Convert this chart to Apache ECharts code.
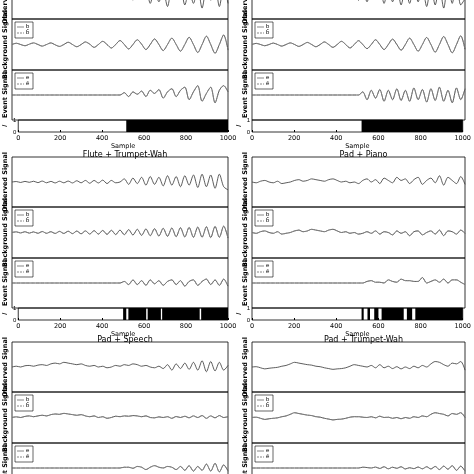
<!DOCTYPE html><html><head><meta charset="utf-8">
<script src="https://cdn.jsdelivr.net/npm/echarts@6/dist/echarts.min.js"></script>
<style>body{margin:0;overflow:hidden;background:#fff}#c{position:absolute;left:0;top:-40px;width:474px;height:554px}</style>
</head><body><div id="c"></div><script>
const xs=[];for(let x=0;x<=1000;x+=20)xs.push(x);
const titles=["","","Flute + Trumpet-Wah","Pad + Piano","Pad + Speech","Pad + Trumpet-Wah"];
const Z25=[0,0,0,0,0,0,0,0,0,0,0,0,0,0,0,0,0,0,0,0,0,0,0,0,0];
// panel 1 (top-left)
const o1=[0,.1,0,-.1,0,.1,0,-.1,0,.12,0,-.1,.05,.15,0,-.15,0,.2,0,-.2,0,.2,0,-.25,0,.3,-.3,.2,-.4,.3,-.2,.4,-.6,.3,-.5,.2,-.8,.4,-.3,.5,-.7,.2,-.6,.5,-.9,.3,-.4,.6,-.8,.5,-.6];
const b1=[0,.08,0,-.08,.02,.1,0,-.1,0,.1,-.02,-.12,0,.14,0,-.14,0,.16,.02,-.18,0,.2,0,-.22,0,.25,0,-.28,0,.3,.02,-.32,0,.35,0,-.38,0,.4,0,-.42,0,.45,0,-.5,0,.52,0,-.55,0,.6,-.35];
const e1=Z25.concat([0,.15,-.1,.2,.05,.25,-.1,.3,.1,.35,-.2,.2,.4,-.1,.3,.5,-.3,.2,.6,-.4,.1,.5,-.5,.3,.6,.2]);
const i1=[[515,1000]];
// panel 2 (top-right)
const o2=[0,.1,-.05,-.1,0,.12,0,-.1,0,.1,0,-.12,.02,.14,0,-.15,0,.18,0,-.2,0,.22,-.1,-.3,.2,-.4,.3,-.5,.4,-.3,.5,-.6,.4,-.5,.6,-.7,.3,-.6,.7,-.5,.4,-.8,.6,-.7,.5,-.9,.7,-.6,.8,-.7,-.3];
const b2=[0,.07,0,-.08,0,.09,0,-.1,0,.1,0,-.12,0,.13,0,-.14,0,.16,0,-.18,0,.2,0,-.22,0,.24,0,-.26,0,.3,0,-.32,0,.34,0,-.36,0,.4,0,-.42,0,.44,0,-.48,0,.5,0,-.52,0,.55,-.3];
const e2=Z25.concat([0,.2,-.3,.3,-.2,.35,-.4,.3,-.3,.4,-.35,.3,-.4,.45,-.3,.35,-.45,.4,-.35,.5,-.4,.3,-.5,.45,-.3,.4]);
const i2=[[520,1000]];
// panel 3 Flute + Trumpet-Wah
const o3=[0,.03,-.03,.04,-.02,.05,-.04,.06,-.05,.04,-.06,.05,-.05,.06,-.06,.08,-.05,.1,-.08,.1,-.06,.12,-.1,.1,-.05,0,.2,-.15,.25,-.1,.3,-.2,.35,-.15,.3,-.25,.4,-.2,.35,-.3,.4,-.2,.45,-.35,.5,-.3,.45,-.4,.5,-.3,-.5];
const b3=[0,.04,-.03,.05,-.04,.04,-.05,.06,-.05,.05,-.06,.07,-.06,.08,-.07,.09,-.08,.1,-.1,.12,-.1,.13,-.12,.14,-.13,.15,-.14,.18,-.16,.2,-.18,.22,-.2,.24,-.22,.26,-.24,.28,-.26,.3,-.28,.32,-.3,.34,-.3,.36,-.32,.38,-.3,.4,-.35];
const e3=Z25.concat([0,.1,-.1,.2,-.1,.15,-.15,.2,-.05,.15,-.15,.1,.2,-.1,.15,-.2,.1,.2,-.15,.1,.25,-.1,.2,-.15,.25,-.2]);
const i3=[[500,515],[525,610],[617,680],[686,865],[872,1000]];
// panel 4 Pad + Piano
const o4=[0,-.05,.05,.1,0,-.05,.05,-.1,-.05,0,.1,.15,.05,.1,.2,.15,.1,.05,.15,.2,.1,0,.05,-.05,0,-.1,.1,.2,0,.15,-.1,.25,.1,-.05,.3,.1,.2,-.1,.15,.3,-.15,.1,.25,-.05,.4,-.2,.3,.1,-.1,.35,-.15];
const b4=[0,-.05,.05,.1,0,-.05,.05,-.1,-.05,0,.1,.15,.05,.1,.2,.15,.1,.05,.15,.2,.1,0,.05,-.05,0,-.1,-.05,.05,-.05,.1,-.1,.05,0,-.15,.1,-.05,.05,-.2,.05,.1,-.15,0,.1,-.1,.15,-.2,.1,.05,-.1,.15,-.05];
const e4=Z25.concat([0,0,.1,.15,.05,.05,0,.2,.1,.05,.25,.15,.15,.1,.1,.35,0,.1,.2,.05,.25,0,.2,.2,.05,-.1]);
const i4=[[520,530],[548,560],[580,600],[615,720],[735,760],[775,1000]];
// panel 5 Pad + Speech
const o5=[0,.05,0,.08,.1,.05,.12,.15,.1,.2,.25,.2,.3,.25,.2,.15,.2,.1,.05,.1,0,.05,-.05,0,.1,.05,.15,.1,.2,.15,.05,.1,0,-.05,.05,-.1,.15,-.2,.2,-.1,.25,-.15,.3,-.2,.4,-.3,.35,-.25,.3,-.2,.1];
const b5=[0,.04,0,.07,.1,.05,.1,.14,.1,.18,.22,.2,.26,.22,.18,.14,.18,.1,.05,.1,0,.05,-.05,0,.08,.05,.1,.08,.12,.1,.05,.1,0,-.02,.04,0,.05,-.05,.06,0,.08,-.02,.1,0,.12,-.05,.1,-.02,.12,0,.05];
const e5=Z25.concat([0,.05,.05,-.02,.1,.05,-.1,.05,.15,.05,0,.1,.05,-.1,.1,-.15,.15,-.2,.1,-.15,.25,-.2,.3,-.25,.2,-.2]);
const i5=[[500,1000]];
// panel 6 Pad + Trumpet-Wah
const o6=[0,.02,-.05,-.12,-.08,-.05,-.02,.05,.1,.2,.3,.25,.2,.15,.12,.05,.02,-.05,-.1,-.15,-.12,-.1,-.05,.05,.15,.1,.05,0,.1,-.05,.15,-.05,.05,-.1,.02,-.12,0,-.1,.05,-.05,.1,0,.2,.35,.3,.15,.05,.25,.2,.35,-.2];
const b6=[0,.02,-.05,-.12,-.08,-.05,-.02,.05,.1,.2,.3,.25,.2,.15,.12,.05,.02,-.05,-.1,-.15,-.12,-.1,-.05,.02,.05,.05,.02,0,.05,-.02,.08,0,.02,-.05,0,-.08,0,-.05,.05,0,.1,.05,.2,.3,.25,.2,.1,.25,.2,.3,0];
const e6=Z25.concat([0,.05,.03,0,.06,-.03,.08,-.05,.05,-.02,.08,-.06,.02,-.04,.06,-.05,.08,-.06,.1,-.1,.12,-.08,.15,-.15,.12,-.2]);
const i6=[[520,1000]];
const P=[[o1,b1,e1,i1],[o2,b2,e2,i2],[o3,b3,e3,i3],[o4,b4,e4,i4],[o5,b5,e5,i5],[o6,b6,e6,i6]];
const tops=[9,197,382];
const grid=[],xAxis=[],yAxis=[],series=[],title=[],graphic=[];
const ln='#333';
P.forEach((p,k)=>{
  const L=k%2?252:12, R=474-(k%2?465:228), T=tops[Math.floor(k/2)];
  const rows=[[T,50,'Observed Signal'],[T+50,51,'Background Signal'],[T+101,50,'Event Signal'],[T+151,12,'I']];
  rows.forEach((r,j)=>{
    const gi=grid.length;
    grid.push({left:L,right:R,top:r[0],height:r[1],show:true,borderColor:'#000',borderWidth:0.8});
    const last=j===3;
    xAxis.push({type:'value',gridIndex:gi,min:0,max:1000,interval:200,
      axisLine:{show:false},axisTick:{show:last,inside:true,length:2,lineStyle:{color:'#000'}},
      axisLabel:{show:last,fontSize:6.5,color:'#000',margin:3,fontFamily:'DejaVu Sans',formatter:v=>String(v)},splitLine:{show:false},
      name:last?'Sample':'',nameLocation:'middle',nameGap:10,nameTextStyle:{fontSize:6.5,color:'#000',fontFamily:'DejaVu Sans'}});
    yAxis.push(last?{type:'value',gridIndex:gi,min:0,max:1,interval:1,axisLine:{show:false},axisTick:{show:false},
      axisLabel:{fontSize:6,color:'#000',margin:2},splitLine:{show:false},name:'I',nameLocation:'middle',nameGap:8,nameRotate:90,
      nameTextStyle:{fontSize:8,fontStyle:'italic',color:'#000'}}
      :{type:'value',gridIndex:gi,min:-1.6,max:1.6,axisLine:{show:false},axisTick:{show:false},axisLabel:{show:false},splitLine:{show:false},
      name:r[2],nameLocation:'middle',nameGap:3,nameRotate:90,nameTextStyle:{fontSize:6.5,fontWeight:'bold',color:'#000',fontFamily:'DejaVu Sans'}});
    if(!last){
      const arr=p[j];
      series.push({type:'line',xAxisIndex:gi,yAxisIndex:gi,data:xs.map((x,i)=>[x,arr[i]]),showSymbol:false,
        lineStyle:{color:ln,width:0.8},smooth:0.3,silent:true,animation:false});
      if(j>0){
        series.push({type:'line',xAxisIndex:gi,yAxisIndex:gi,data:xs.map((x,i)=>[x,arr[i]]),showSymbol:false,
          lineStyle:{color:'#888',width:0.8,type:'dashed'},smooth:0.3,silent:true,animation:false});
        const gx=L+3, gy=r[0]+3;
        graphic.push({type:'rect',shape:{x:gx,y:gy,width:18,height:16},style:{fill:'#fff',stroke:'#000',lineWidth:0.6}});
        graphic.push({type:'line',shape:{x1:gx+2,y1:gy+5,x2:gx+9,y2:gy+5},style:{stroke:'#555',lineWidth:0.7}});
        graphic.push({type:'line',shape:{x1:gx+2,y1:gy+11,x2:gx+9,y2:gy+11},style:{stroke:'#555',lineWidth:0.7,lineDash:[2,1]}});
        const s=j===1?'b':'e';
        graphic.push({type:'text',x:gx+11,y:gy+1,style:{text:s,fontSize:6,fill:'#000'}});
        graphic.push({type:'text',x:gx+11,y:gy+7,style:{text:s+'\u0302',fontSize:6,fill:'#000'}});
      }
    } else {
      series.push({type:'line',xAxisIndex:gi,yAxisIndex:gi,data:[[0,0],[1000,0]],showSymbol:false,lineStyle:{opacity:0},silent:true,animation:false,
        markArea:{silent:true,itemStyle:{color:'#000',opacity:1},data:p[3].map(s=>[{xAxis:s[0]},{xAxis:s[1]}])}});
    }
  });
  if(titles[k]) title.push({text:titles[k],left:(L+474-R)/2,top:T-11,textAlign:'center',textStyle:{fontSize:8,fontWeight:'normal',color:'#000',fontFamily:'DejaVu Sans'}});
});
const ch=echarts.init(document.getElementById('c'));
ch.setOption({animation:false,title,grid,xAxis,yAxis,series,graphic});
</script></body></html>
